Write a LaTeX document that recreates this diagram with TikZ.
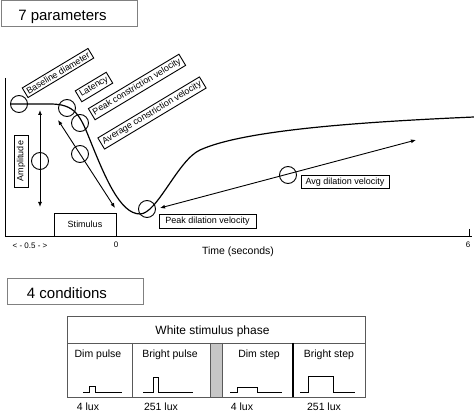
\documentclass[tikz,border=0pt]{standalone}
\usepackage{fontspec}
\setmainfont{Liberation Sans}
\usetikzlibrary{arrows.meta}
\tikzset{
  ring/.style={draw, circle, minimum size=17pt, inner sep=0pt},
  tag/.style={draw, rotate=31, inner sep=2.3pt, font=\fontsize{9}{10}\selectfont},
  flatbox/.style={draw, inner sep=1.8pt, font=\fontsize{9}{10}\selectfont},
  ticklbl/.style={font=\fontsize{8}{9}\selectfont},
  twoway/.style={{Latex[length=5pt,width=4pt]}-{Latex[length=5pt,width=4pt]}},
  tabtxt/.style={font=\fontsize{10.5}{12}\selectfont},
  headbox/.style={draw=gray, line width=0.8pt}
}

\begin{document}
\begin{tikzpicture}[x=1pt, y=-1pt, line width=0.9pt]
\useasboundingbox (0,0) rectangle (474,411);

% headings
\draw[headbox] (1,0.5) rectangle (137,26);
\node[anchor=base, font=\fontsize{15}{17}\selectfont] (params) at (62.5,21) {7 parameters};
\draw[headbox] (7,278) rectangle (143,304);
\node[anchor=base, font=\fontsize{15}{17}\selectfont] (conds) at (67,298.5) {4 conditions};

% axes
\draw (5,78) -- (5,236) -- (472,236);
\draw (469,229) -- (469,236);
\node[ticklbl] (tminus) at (30,246) {< - 0.5 - >};
\node[ticklbl] (tzero) at (116,245) {0};
\node[ticklbl] (tsix) at (468,245) {6};
\node[font=\fontsize{10.5}{12}\selectfont] (timelbl) at (238,252) {Time (seconds)};

% pupil trace
\draw[line width=1.2pt] (10,104) -- (50,104)
  .. controls (75,104) and (80,115) .. (90,140)
  .. controls (105,177) and (120,214) .. (140,214)
  .. controls (157,214) and (178,160) .. (200,150)
  .. controls (244,130) and (360,122) .. (474,117);

% boxes on the plot
\node[flatbox, minimum width=62pt, minimum height=23pt] (stim) at (85,224.5) {Stimulus};
\node[flatbox, rotate=90, minimum width=52pt, minimum height=14pt] (amp) at (21,161) {Amplitude};
\node[flatbox, minimum width=97pt, minimum height=14pt] (pdvlbl) at (207.5,221) {Peak dilation velocity};
\node[flatbox, minimum width=88pt, minimum height=13pt] (advlbl) at (345,182) {Avg dilation velocity};

% slanted tags
\node[tag] (baselbl) at (58,73) {Baseline diameter};
\node[tag] (latlbl) at (94,87) {Latency};
\node[tag] (pcvlbl) at (137,87) {Peak constriction velocity};
\node[tag] (acvlbl) at (152,113) {Average constriction velocity};

% circles
\node[ring] (base) at (19,104) {};
\node[ring] (ampring) at (40,161) {};
\node[ring] (lat) at (67,108) {};
\node[ring] (pcv) at (80,123) {};
\node[ring] (acv) at (80,154) {};
\node[ring] (pdv) at (147,209) {};
\node[ring] (adv) at (288,175) {};

% arrows
\coordinate (amptop) at (40,110);
\coordinate (ampbot) at (40,207);
\coordinate (contop) at (58,120);
\coordinate (conbot) at (115,208);
\coordinate (dillow) at (160,208);
\coordinate (dilhigh) at (416,140);
\draw[twoway] (amptop) -- (ampbot);
\draw[twoway] (contop) -- (conbot);
\draw[twoway] (dillow) -- (dilhigh);

% conditions table
\fill[gray!45] (210,343) rectangle (222,397);
\draw[draw=gray!70!black] (67,316) rectangle (365,397);
\draw[draw=gray!70!black] (67,343) -- (365,343);
\draw[draw=gray!70!black] (132,343) -- (132,397);
\draw[draw=gray!70!black] (210,343) -- (210,397);
\draw[draw=gray!70!black] (222,343) -- (222,397);
\draw[line width=1.1pt] (293,343) -- (293,397);
\node[font=\fontsize{12}{14}\selectfont] (phase) at (212.5,331) {White stimulus phase};
\node[tabtxt] (dimp) at (98,355) {Dim pulse};
\node[tabtxt] (brtp) at (170,355) {Bright pulse};
\node[tabtxt] (dims) at (259,355) {Dim step};
\node[tabtxt] (brts) at (329,355) {Bright step};

% stimulus shapes
\draw[line width=0.8pt] (83,392) -- (89,392) -- (89,386) -- (95,386) -- (95,392) -- (122,392);
\draw[line width=0.8pt] (143,392) -- (153,392) -- (153,377) -- (158,377) -- (158,392) -- (193,392);
\draw[line width=0.8pt] (230,392) -- (237,392) -- (237,387) -- (257,387) -- (257,392) -- (282,392);
\draw[line width=0.8pt] (300,392) -- (308,392) -- (308,376) -- (333,376) -- (333,392) -- (355,392);

% intensities
\node[tabtxt, anchor=base] (luxa) at (88,411) {4 lux};
\node[tabtxt, anchor=base] (luxb) at (161,411) {251 lux};
\node[tabtxt, anchor=base] (luxc) at (242,411) {4 lux};
\node[tabtxt, anchor=base] (luxd) at (324,411) {251 lux};
\end{tikzpicture}
\end{document}
